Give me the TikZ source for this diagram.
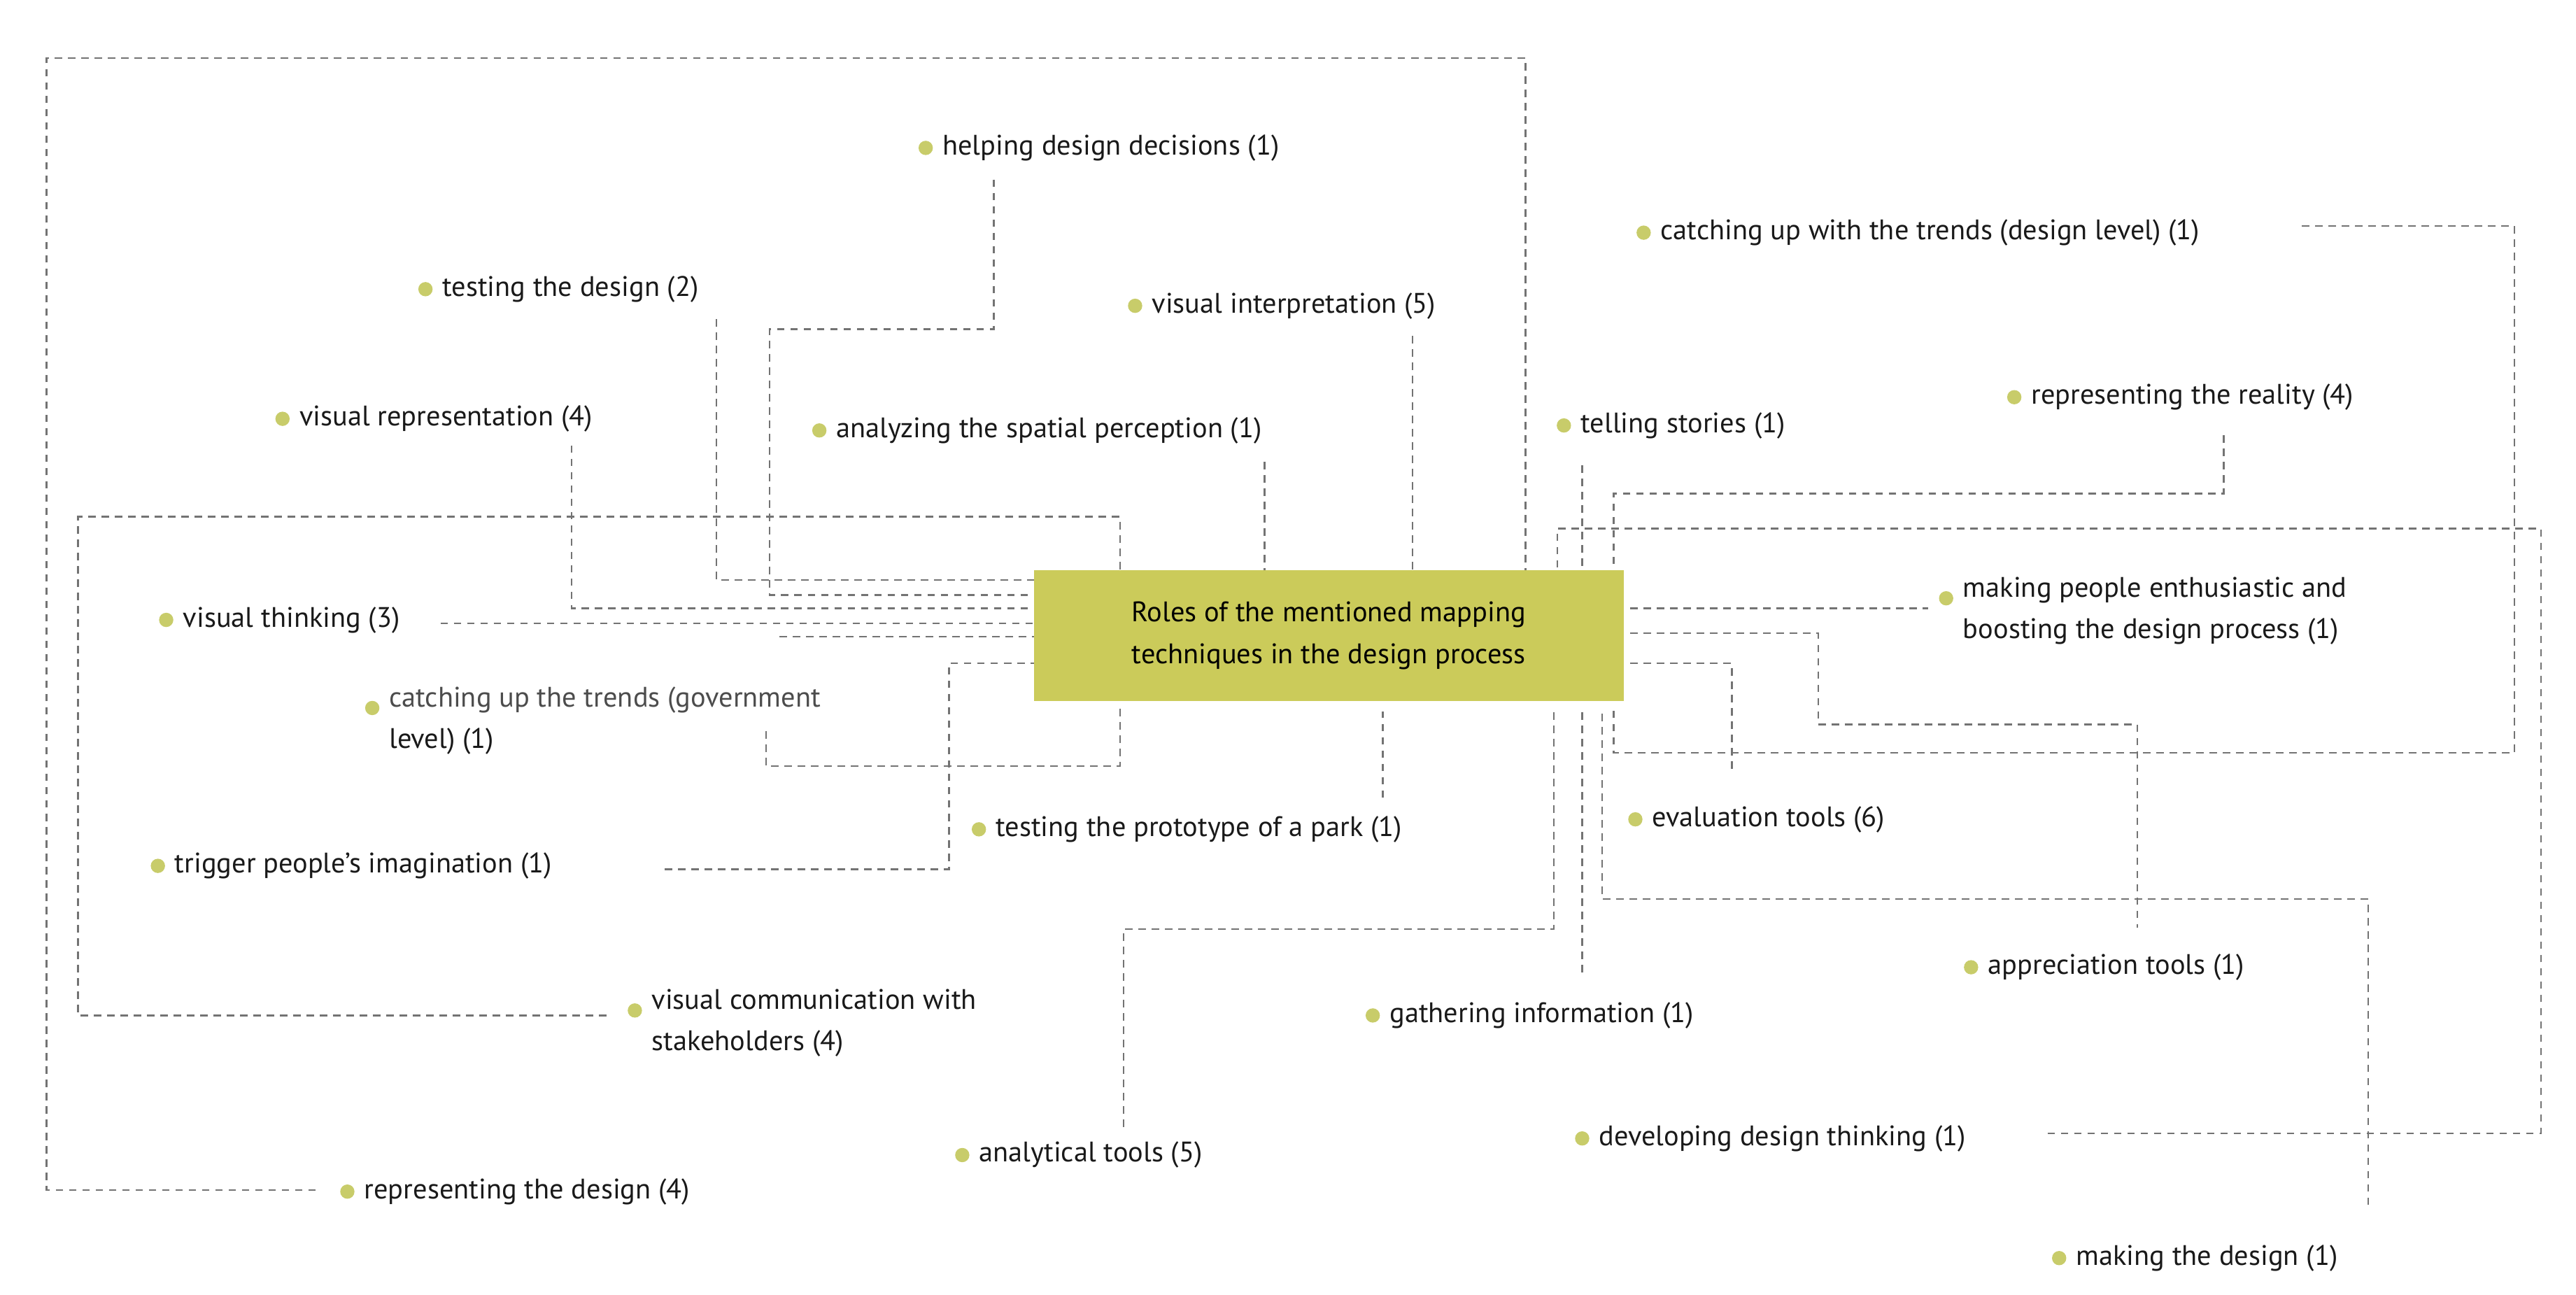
\documentclass[tikz,border=0pt]{standalone}
\usepackage{fontspec}
\setmainfont{PT Sans}
\definecolor{olive}{HTML}{CBCB5A}
\definecolor{dotc}{HTML}{C8CC6A}
\begin{document}
\begin{tikzpicture}[x=1pt,y=-1pt,
  dl/.style={draw=black!55,line width=1.1pt,dash pattern=on 4.5pt off 3.5pt},
  lab/.style={anchor=west,inner sep=0pt,font=\fontsize{17}{25}\selectfont,text=black!90,align=left},
  lab2/.style={anchor=north west,inner sep=0pt,font=\fontsize{17}{25}\selectfont,text=black!90,align=left}]
\useasboundingbox (0,0) rectangle (1550,779);
\node[fill=olive,minimum width=355pt,minimum height=79pt,inner sep=0pt,align=center,
  font=\fontsize{17}{25}\selectfont] (box) at (799.5,382.5) {Roles of the mentioned mapping\\techniques in the design process};
% labels
\newcommand{\dotlab}[4]{\fill[dotc] (#2,#3) circle (4.3pt); \node[lab] (#1) at (#2+10,#3) {#4};}
\newcommand{\dotlabb}[4]{\fill[dotc] (#2,#3) circle (4.3pt); \node[lab2] (#1) at (#2+10,#3-13) {#4};}
\dotlab{hdd}{557}{89}{helping design decisions (1)}
\dotlab{ttd}{256}{174}{testing the design (2)}
\dotlab{vi}{683}{184}{visual interpretation (5)}
\dotlab{vr}{170}{252}{visual representation (4)}
\dotlab{asp}{493}{259}{analyzing the spatial perception (1)}
\dotlab{ts}{941}{256}{telling stories (1)}
\dotlab{rr}{1212}{239}{representing the reality (4)}
\dotlab{cdl}{989}{140}{catching up with the trends (design level) (1)}
\dotlab{vt}{100}{373}{visual thinking (3)}
\dotlabb{mpe}{1171}{360}{making people enthusiastic and\\boosting the design process (1)}
\fill[dotc] (224,426) circle (4.3pt); \node[lab2] (gov) at (234,413) {\textcolor{black!70}{catching up the trends (government}\\level) (1)};
\dotlab{tpi}{95}{521}{trigger people's imagination (1)}
\dotlab{tpp}{589}{499}{testing the prototype of a park (1)}
\dotlab{et}{984}{493}{evaluation tools (6)}
\dotlab{at}{1186}{582}{appreciation tools (1)}
\dotlabb{vcs}{382}{608}{visual communication with\\stakeholders (4)}
\dotlab{gi}{826}{611}{gathering information (1)}
\dotlab{ddt}{952}{685}{developing design thinking (1)}
\dotlab{an}{579}{695}{analytical tools (5)}
\dotlab{rd}{209}{717}{representing the design (4)}
\dotlab{md}{1239}{757}{making the design (1)}
% connectors
\draw[dl] (190,716) -- (28,716) -- (28,35) -- (918,35) -- (918,343);
\draw[dl] (598,108) -- (598,198) -- (463,198) -- (463,358) -- (622,358);
\draw[dl] (431,192) -- (431,349) -- (622,349);
\draw[dl] (344,268) -- (344,366) -- (622,366);
\draw[dl] (265,375) -- (622,375);
\draw[dl] (469,383) -- (622,383);
\draw[dl] (400,523) -- (571,523) -- (571,399) -- (622,399);
\draw[dl] (461,440) -- (461,461) -- (674,461) -- (674,426);
\draw[dl] (365,611) -- (47,611) -- (47,311) -- (674,311) -- (674,343);
\draw[dl] (850,202) -- (850,343);
\draw[dl] (761,278) -- (761,343);
\draw[dl] (832,480) -- (832,428);
\draw[dl] (676,678) -- (676,559) -- (935,559) -- (935,426);
\draw[dl] (952,585) -- (952,426);
\draw[dl] (1425,725) -- (1425,541) -- (964,541) -- (964,426);
\draw[dl] (1385,136) -- (1513,136) -- (1513,453) -- (971,453) -- (971,426);
\draw[dl] (981,399) -- (1042,399) -- (1042,465);
\draw[dl] (981,381) -- (1094,381) -- (1094,436) -- (1286,436) -- (1286,558);
\draw[dl] (981,366) -- (1160,366);
\draw[dl] (1232,682) -- (1529,682) -- (1529,318) -- (937,318) -- (937,343);
\draw[dl] (952,280) -- (952,343);
\draw[dl] (1338,262) -- (1338,297) -- (971,297) -- (971,343);
\end{tikzpicture}
\end{document}
